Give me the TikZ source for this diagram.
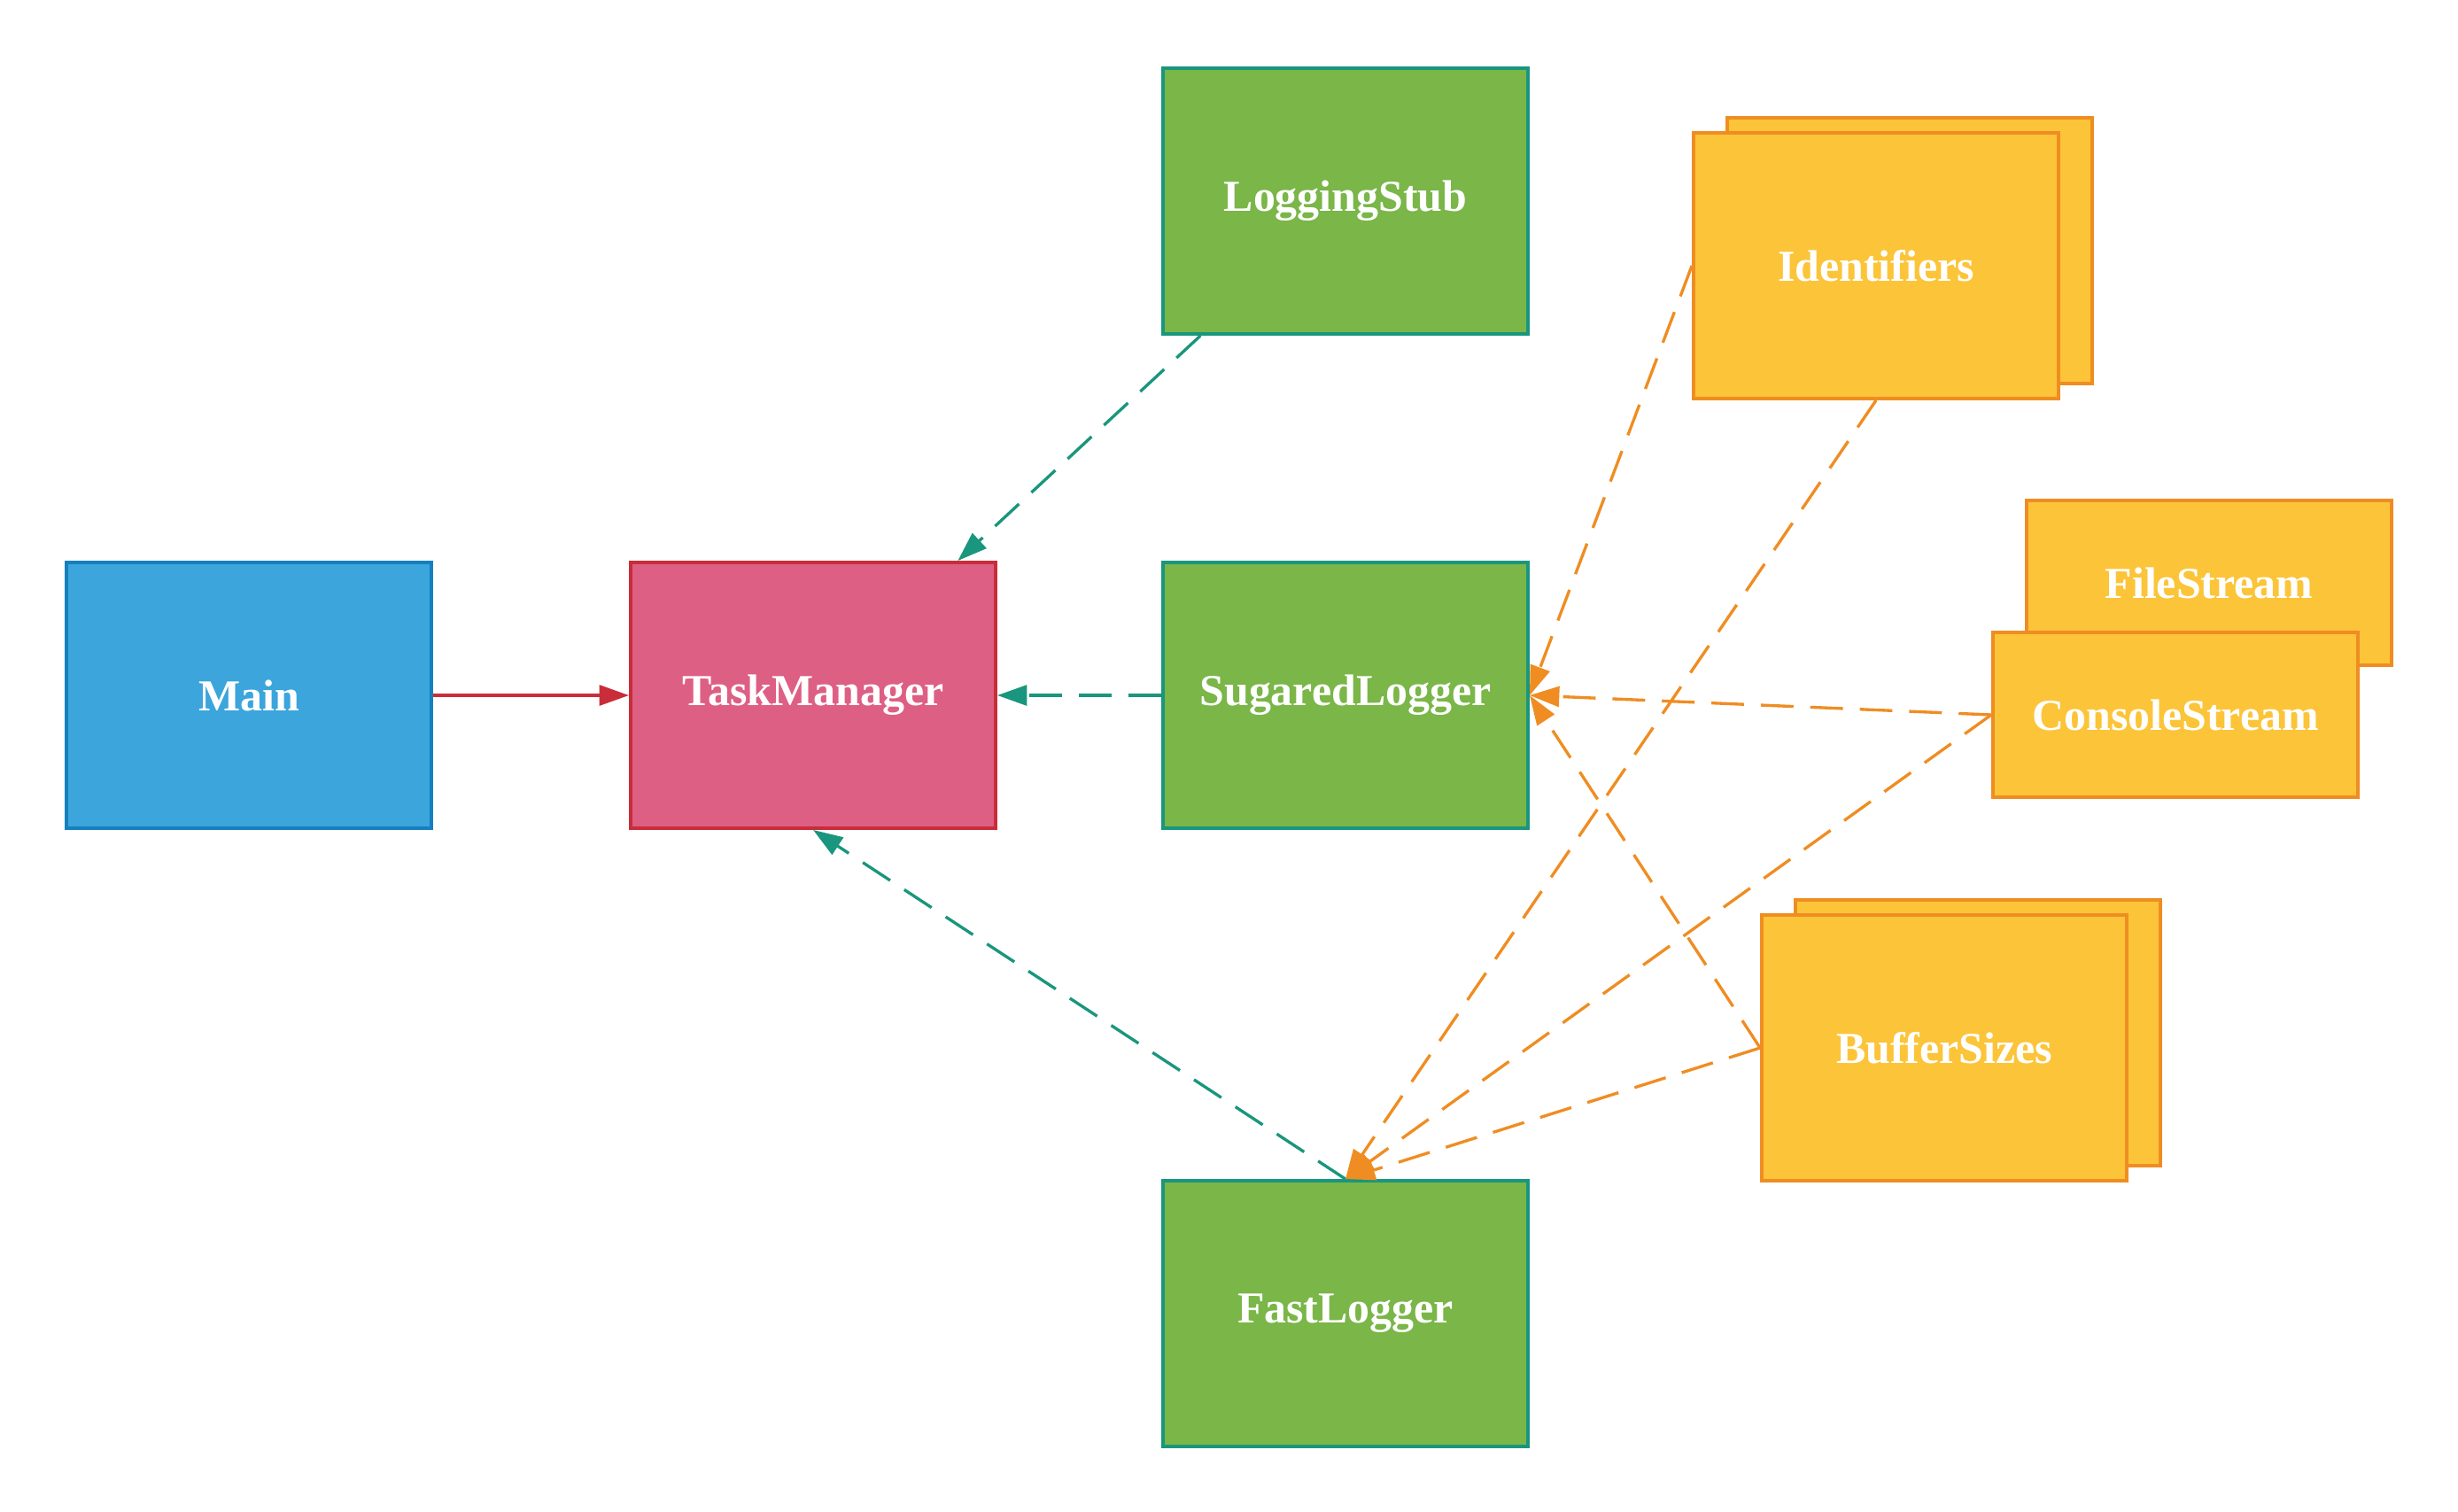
\documentclass[tikz,border=0pt]{standalone}
\usepackage{fontspec}
\setmainfont{Liberation Serif}
\usepackage{xcolor}
\usepackage{tikz}
\usetikzlibrary{arrows.meta,shadows}

\definecolor{mainfill}{HTML}{3BA5DC}
\definecolor{mainline}{HTML}{1580C0}
\definecolor{taskfill}{HTML}{DE5F84}
\definecolor{taskline}{HTML}{C92D39}
\definecolor{logfill}{HTML}{7AB648}
\definecolor{logline}{HTML}{19967D}
\definecolor{partfill}{HTML}{FCC438}
\definecolor{partline}{HTML}{EF8D22}

\begin{document}
\begin{tikzpicture}[
    box/.style={draw, line width=1.1pt, minimum width=4.12cm, minimum height=3.0cm,
      inner sep=0pt, text=white, font=\fontsize{14.2}{17}\selectfont\bfseries},
    mainbox/.style={box, fill=mainfill, draw=mainline},
    taskbox/.style={box, fill=taskfill, draw=taskline},
    logbox/.style={box, fill=logfill, draw=logline},
    partbox/.style={box, fill=partfill, draw=partline},
    stackbox/.style={partbox, copy shadow={shadow xshift=0.38cm, shadow yshift=0.17cm,
      fill=partfill, draw=partline, line width=1.1pt}},
    flatbox/.style={partbox, minimum height=1.86cm},
    uses/.style={->, dash pattern=on 10.5pt off 5.4pt, line width=0.95pt},
    >={Triangle[length=9.5pt,width=6.5pt]}
  ]
          \useasboundingbox (0, 0) rectangle (27.75, -17.06);

          \node[mainbox](M)  at (2.81, -7.85) {Main};
          \node[taskbox](T)  at (9.18, -7.85) {TaskManager};
          \node[logbox](LS)  at (15.19, -2.27) {LoggingStub};
          \node[logbox](SL)  at (15.19, -7.85) {SugaredLogger};
          \node[logbox](FL)  at (15.19, -14.83) {FastLogger};
          \node[stackbox](ID) at (21.18, -3.00) {Identifiers};
          \node[flatbox](FS) at (24.94, -6.58) {FileStream};
          \node[flatbox](CS) at (24.56, -8.07) {ConsoleStream};
          \node[stackbox](BS) at (21.95, -11.83) {BufferSizes};

          \draw[->, taskline, line width=0.95pt] (M) -- (T);
          \path[uses, logline] (LS) edge (T) (SL) edge (T) (FL.north) edge (T.south);
          \path[uses, partline] (ID.west) edge (SL.east) (CS.west) edge (SL.east)
            (BS.west) edge (SL.east);
          \path[uses, partline] (ID.south) edge (FL.north) (CS.west) edge (FL.north)
            (BS.west) edge (FL.north);
        \end{tikzpicture}
\end{document}
